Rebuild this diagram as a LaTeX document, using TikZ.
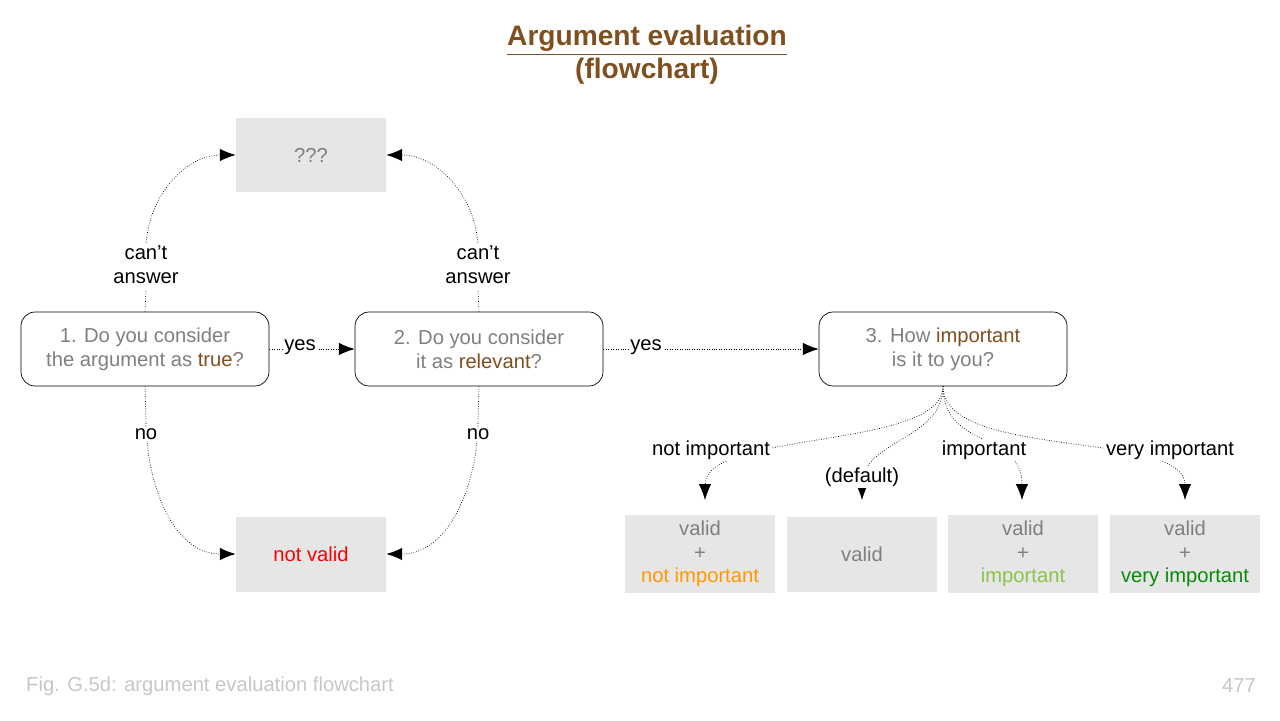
\documentclass[tikz,border=0pt]{standalone}
\usepackage{fontspec}
\setmainfont{Liberation Sans}
\usetikzlibrary{arrows.meta}
\definecolor{brn}{HTML}{7F4F1F}
\definecolor{txtgray}{HTML}{7F7F7F}
\definecolor{boxgray}{HTML}{E6E6E6}
\definecolor{org}{HTML}{FF9900}
\definecolor{lgrn}{HTML}{8BC34A}
\definecolor{dgrn}{HTML}{0A8A0A}
\begin{document}
\begin{tikzpicture}[x=0.02cm, y=-0.02cm,
  font=\fontsize{11.5}{13.5}\selectfont,
  ask/.style = {draw, rounded corners=8pt, minimum width=4.96cm, minimum height=1.48cm, align=center, text=txtgray},
  res/.style = {fill=boxgray, minimum width=3.0cm, minimum height=1.5cm, align=center, text=txtgray},
  lbl/.style = {fill=white, inner sep=1pt, align=center},
  flow/.style = {densely dotted, -{Latex[length=9pt,width=7pt]}}]
\useasboundingbox (0,0) rectangle (1280,720);
% title
\node[text=brn, font=\fontsize{16}{19}\selectfont\bfseries, align=center] (title) at (647,55) {\underline{Argument evaluation}\\(flowchart)};
% questions
\node[ask] (q1) at (145,349) {1. Do you consider\\the argument as \textcolor{brn}{true}?};
\node[ask] (q2) at (479,349) {2. Do you consider\\it as \textcolor{brn}{relevant}?};
\node[ask] (q3) at (943,349) {3. How \textcolor{brn}{important}\\is it to you?};
% results
\node[res] (unk) at (311,155) {???};
\node[res, text=red] (nv) at (311,554) {not valid};
\node[res] (v1) at (700,554) {valid\\+\\\textcolor{org}{not important}};
\node[res] (v2) at (862,554) {valid};
\node[res] (v3) at (1023,554) {valid\\+\\\textcolor{lgrn}{important}};
\node[res] (v4) at (1185,554) {valid\\+\\\textcolor{dgrn}{very important}};
% connectors
\draw[densely dotted] (q1.north) -- (146,290);
\draw[flow] (146,250) to[out=90,in=180] (unk.west);
\draw[densely dotted] (q2.north) -- (478,290);
\draw[flow] (478,250) to[out=90,in=0] (unk.east);
\draw[flow] (q1.south) -- (146,420) to[out=-90,in=180] (nv.west);
\draw[flow] (q2.south) -- (478,420) to[out=-90,in=0] (nv.east);
\draw[flow] (q1.east) -- (q2.west);
\draw[flow] (q2.east) -- (q3.west);
\draw[flow] (q3.south) .. controls (943,450) and (705,430) .. (705,500);
\draw[flow] (q3.south) .. controls (943,440) and (862,440) .. (862,500);
\draw[flow] (q3.south) .. controls (943,450) and (1022,430) .. (1022,500);
\draw[flow] (q3.south) .. controls (943,460) and (1185,430) .. (1185,500);
% labels
\node[lbl] (ca1) at (146,265) {can't\\answer};
\node[lbl] (ca2) at (478,265) {can't\\answer};
\node[lbl] (no1) at (146,434) {no};
\node[lbl] (no2) at (478,434) {no};
\node[lbl] (yes1) at (300,347) {yes};
\node[lbl] (yes2) at (646,347) {yes};
\node[lbl] (lni) at (711,450) {not important};
\node[lbl] (ldef) at (862,477) {(default)};
\node[lbl] (limp) at (984,450) {important};
\node[lbl] (lvi) at (1170,450) {very important};
% footer
\node[text=boxgray!70!gray, anchor=west] (cap) at (20,686) {Fig. G.5d: argument evaluation flowchart};
\node[text=boxgray!70!gray, anchor=east] (pg) at (1262,686) {477};
\end{tikzpicture}
\end{document}
